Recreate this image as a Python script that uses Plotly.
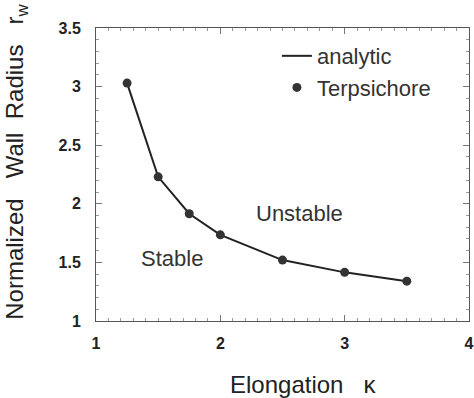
import plotly.graph_objects as go

kappa = [1.25, 1.5, 1.75, 2.0, 2.5, 3.0, 3.5]
rw_analytic = [3.03, 2.23, 1.915, 1.735, 1.52, 1.415, 1.34]
rw_terpsichore = [3.03, 2.23, 1.915, 1.735, 1.52, 1.415, 1.34]

x_ticks = [1, 2, 3, 4]
y_ticks = [1, 1.5, 2, 2.5, 3, 3.5]
y_ticklabels = ["1", "1.5", "2", "2.5", "3", "3.5"]

FONT = "Liberation Sans, Arial, sans-serif"

fig = go.Figure()
fig.add_trace(go.Scatter(x=kappa, y=rw_analytic, mode="lines", name="analytic",
                         line=dict(color="#222222", width=2)))
fig.add_trace(go.Scatter(x=kappa, y=rw_terpsichore, mode="markers", name="Terpsichore",
                         marker=dict(color="#333333", size=9)))
# invisible trace to anchor the mirrored (top/right) axes
fig.add_trace(go.Scatter(x=kappa, y=rw_terpsichore, mode="markers", xaxis="x2", yaxis="y2",
                         marker=dict(opacity=0), showlegend=False, hoverinfo="skip"))

tick_style = dict(showgrid=False, zeroline=False, showline=True, linecolor="#555555",
                  linewidth=1, ticks="inside", ticklen=6, tickcolor="#777777",
                  tickwidth=1, automargin=False)
minor_style = dict(ticks="inside", ticklen=3, dtick=0.1, tickcolor="#999999")
tickfont = dict(family=FONT, size=16, color="#222222", weight="bold")

fig.update_layout(
    xaxis=dict(range=[1, 4], tickvals=x_ticks, ticktext=[str(v) for v in x_ticks],
               minor=minor_style, tickfont=tickfont, ticklabelstandoff=8, **tick_style),
    yaxis=dict(range=[1, 3.5], tickvals=y_ticks, ticktext=y_ticklabels,
               minor=minor_style, tickfont=tickfont, ticklabelstandoff=11, **tick_style),
    xaxis2=dict(range=[1, 4], tickvals=x_ticks, overlaying="x", side="top", anchor="y2",
                showticklabels=False, minor=minor_style, **tick_style),
    yaxis2=dict(range=[1, 3.5], tickvals=y_ticks, overlaying="y", side="right", anchor="x2",
                showticklabels=False, minor=minor_style, **tick_style),
)

fig.add_annotation(text="Normalized&nbsp;&nbsp;&nbsp;Wall&nbsp;&nbsp;Radius&nbsp;&nbsp;&nbsp;r<sub>w</sub>",
                   textangle=-90, xref="paper", yref="paper", x=-0.213, y=-0.004,
                   xanchor="center", yanchor="bottom", showarrow=False,
                   font=dict(family=FONT, size=24, color="#222222"))
fig.add_annotation(text="Elongation&nbsp;&nbsp;&nbsp;κ", xref="paper", yref="paper",
                   x=0.354, y=-0.218, xanchor="left", yanchor="middle", showarrow=False,
                   font=dict(family=FONT, size=24, color="#222222"))
fig.add_annotation(text="Stable", x=1.61, y=1.53, xref="x", yref="y", showarrow=False,
                   font=dict(family=FONT, size=22, color="#333333"))
fig.add_annotation(text="Unstable", x=2.64, y=1.92, xref="x", yref="y", showarrow=False,
                   font=dict(family=FONT, size=22, color="#333333"))

fig.update_layout(width=474, height=398, margin=dict(l=96, r=5, t=28, b=77),
                  plot_bgcolor="white", paper_bgcolor="white",
                  showlegend=True,
                  legend=dict(x=0.485, y=0.976, xanchor="left", yanchor="top",
                              bgcolor="rgba(0,0,0,0)", tracegroupgap=0,
                              font=dict(family=FONT, size=22, color="#333333")))

# remove the default page margin so the figure sits at the window's top-left corner
fig.write_html("out.html", config={"displayModeBar": False},
               post_script="document.body.style.margin='0';")
